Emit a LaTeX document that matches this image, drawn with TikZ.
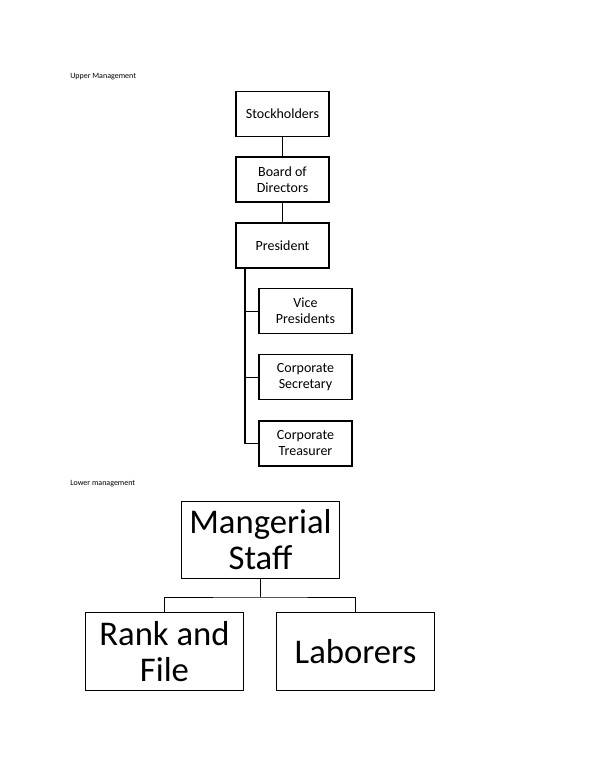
\documentclass[tikz,border=0pt]{standalone}
\usepackage{fontspec}
\setmainfont{Carlito}
\usetikzlibrary{positioning}
\tikzset{
  smallbox/.style={draw, thick, minimum width=69.75pt, minimum height=33.75pt, align=center, inner sep=1pt, font=\fontsize{10.5}{12}\selectfont},
  bigbox/.style={draw, thick, minimum width=118pt, minimum height=58pt, align=center, inner sep=1pt, font=\fontsize{26}{27}\selectfont},
  tag/.style={anchor=west, inner sep=0pt, font=\fontsize{6}{7}\selectfont}
}
\begin{document}
\begin{tikzpicture}[x=0.75pt, y=-0.75pt]
            \useasboundingbox (0,0) rectangle (600,776);

            % Upper part
            \node[tag] (upper) at (70,77) {Upper Management};
            \node[smallbox] (stock) at (282.5,114) {Stockholders};
            \node[smallbox] (board) at (282.5,179.5) {Board of\\Directors};
            \node[smallbox] (pres) at (282.5,245.5) {President};
            \node[smallbox] (vice) at (305.5,311) {Vice\\Presidents};
            \node[smallbox] (secr) at (305.5,377) {Corporate\\Secretary};
            \node[smallbox] (treas) at (305.5,443.5) {Corporate\\Treasurer};
            \coordinate (trunk) at (245,268);

            \draw (stock) -- (board);
            \draw (board) -- (pres);
            \draw[thick] (trunk) |- (treas.west);
            \draw (trunk |- vice.west) -- (vice.west);
            \draw (trunk |- secr.west) -- (secr.west);

            % Lower part
            \node[tag] (lower) at (70,484) {Lower management};
            \node[bigbox] (staff) at (260.5,540) {Mangerial\\Staff};
            \node[bigbox] (rank) at (164.5,651.5) {Rank and\\File};
            \node[bigbox] (labor) at (355.5,651.5) {Laborers};
            \coordinate (split) at (260.5,597);

            \draw (staff) -- (split);
            \draw (rank.north) |- (split) -| (labor.north);

        \end{tikzpicture}
\end{document}
